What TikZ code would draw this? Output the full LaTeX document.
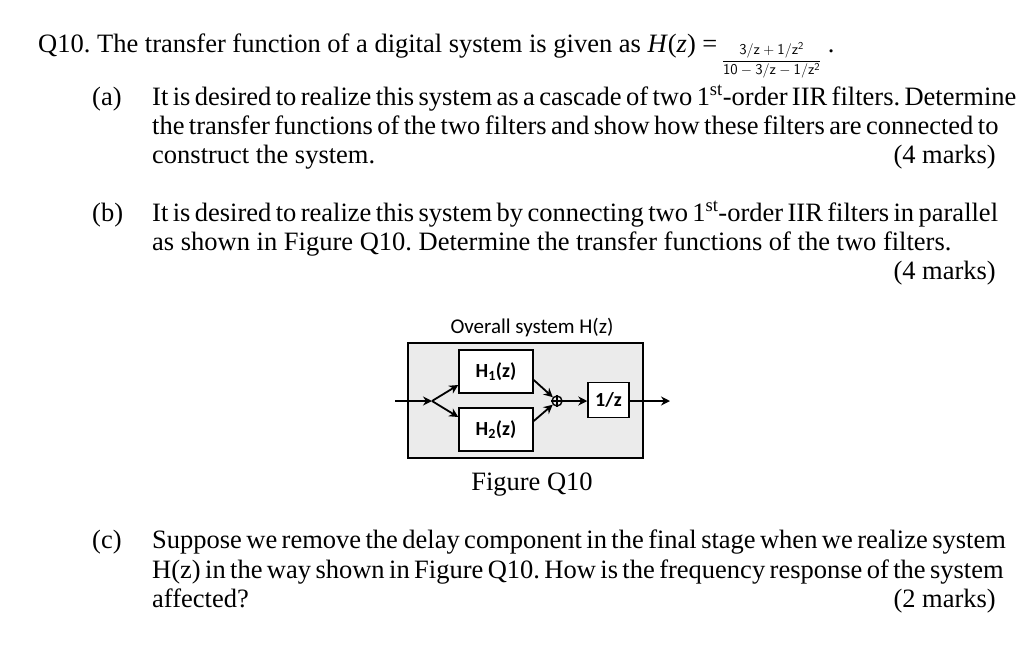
\documentclass[tikz,border=0pt]{standalone}
\usepackage{fontspec}
\setmainfont{Liberation Serif}
\newfontfamily\calf{Carlito}
\newfontfamily\dvs{DejaVu Sans}
\usetikzlibrary{arrows.meta}
\frenchspacing
\begin{document}
\begin{tikzpicture}[x=1pt,y=-1pt,
  txt/.style={anchor=base west,inner sep=0pt,font=\fontsize{26.5}{30}\selectfont},
  rt/.style={anchor=base east,inner sep=0pt,font=\fontsize{26.5}{30}\selectfont},
  blk/.style={draw,line width=1.5pt,fill=white,font=\calf\bfseries\fontsize{20}{22}\selectfont,inner sep=0pt},
  arr/.style={line width=1.8pt,-{Stealth[length=9pt,width=9pt]}}]
\useasboundingbox (0,0) rectangle (1036,654);
\newcommand{\jl}[1]{\makebox[844pt][s]{#1}}
\node[txt] (q) at (38,52) {Q10. The transfer function of a digital system is given as \textit{H}(\textit{z}) =};
\node[inner sep=0pt,anchor=west,font=\dvs\bfseries\fontsize{15}{16}\selectfont] (fr) at ([xshift=4pt,yshift=-8pt]q.base east) {$\displaystyle\frac{\mathsf{3/z+1/z^2}}{\mathsf{10-3/z-1/z^2}}$};
\node[txt,anchor=base west] (dot) at ([xshift=6pt]fr.east|-q.base) {.};
\node[txt] (a) at (92,105) {(a)};
\node[txt] (a1) at (152,105) {\jl{It is desired to realize this system as a cascade of two 1\textsuperscript{st}-order IIR filters. Determine}};
\node[txt] (a2) at (152,134) {\jl{the transfer functions of the two filters and show how these filters are connected to}};
\node[txt] (a3) at (152,163) {construct the system.};
\node[rt] (am) at (996,163) {(4 marks)};
\node[txt] (b) at (92,221) {(b)};
\node[txt] (b1) at (152,221) {\jl{It is desired to realize this system by connecting two 1\textsuperscript{st}-order IIR filters in parallel}};
\node[txt] (b2) at (152,250) {as shown in Figure Q10. Determine the transfer functions of the two filters.};
\node[rt] (bm) at (996,279) {(4 marks)};
% figure
\node[inner sep=0pt,font=\calf\fontsize{21}{22}\selectfont] (ttl) at (532,328) {Overall system H(z)};
\draw[line width=1.8pt,fill=black!8] (408,343) rectangle (643,458);
\node[blk,minimum width=74pt,minimum height=43pt] (h1) at (496,371.5) {H\textsubscript{1}(z)};
\node[blk,minimum width=74pt,minimum height=43pt] (h2) at (496,429.5) {H\textsubscript{2}(z)};
\node[blk,minimum width=41pt,minimum height=35pt] (d) at (608.5,400) {1/z};
\node[draw,circle,line width=1.4pt,minimum size=10pt,inner sep=0pt] (s) at (557,401) {};
\draw[line width=1.2pt] (s.north)--(s.south) (s.west)--(s.east);
\coordinate (in) at (395,401);
\coordinate (br) at (432,401);
\coordinate (out) at (670,401);
\draw[arr] (in) -- (br);
\draw[arr] (br) -- (h1.west|-0,385) ;
\draw[arr] (br) -- (h2.west|-0,417);
\draw[arr] (h1.east|-0,380) -- (s);
\draw[arr] (h2.east|-0,421) -- (s);
\draw[arr] (s) -- (d.west|-s);
\draw[arr] (d.east|-s) -- (out);
\node[txt,anchor=base] (cap) at (532,490) {Figure Q10};
\node[txt] (c) at (92,548) {(c)};
\node[txt] (c1) at (152,548) {\jl{Suppose we remove the delay component in the final stage when we realize system}};
\node[txt] (c2) at (152,578) {\jl{H(z) in the way shown in Figure Q10. How is the frequency response of the system}};
\node[txt] (c3) at (152,607) {affected?};
\node[rt] (cm) at (996,607) {(2 marks)};
\end{tikzpicture}
\end{document}
